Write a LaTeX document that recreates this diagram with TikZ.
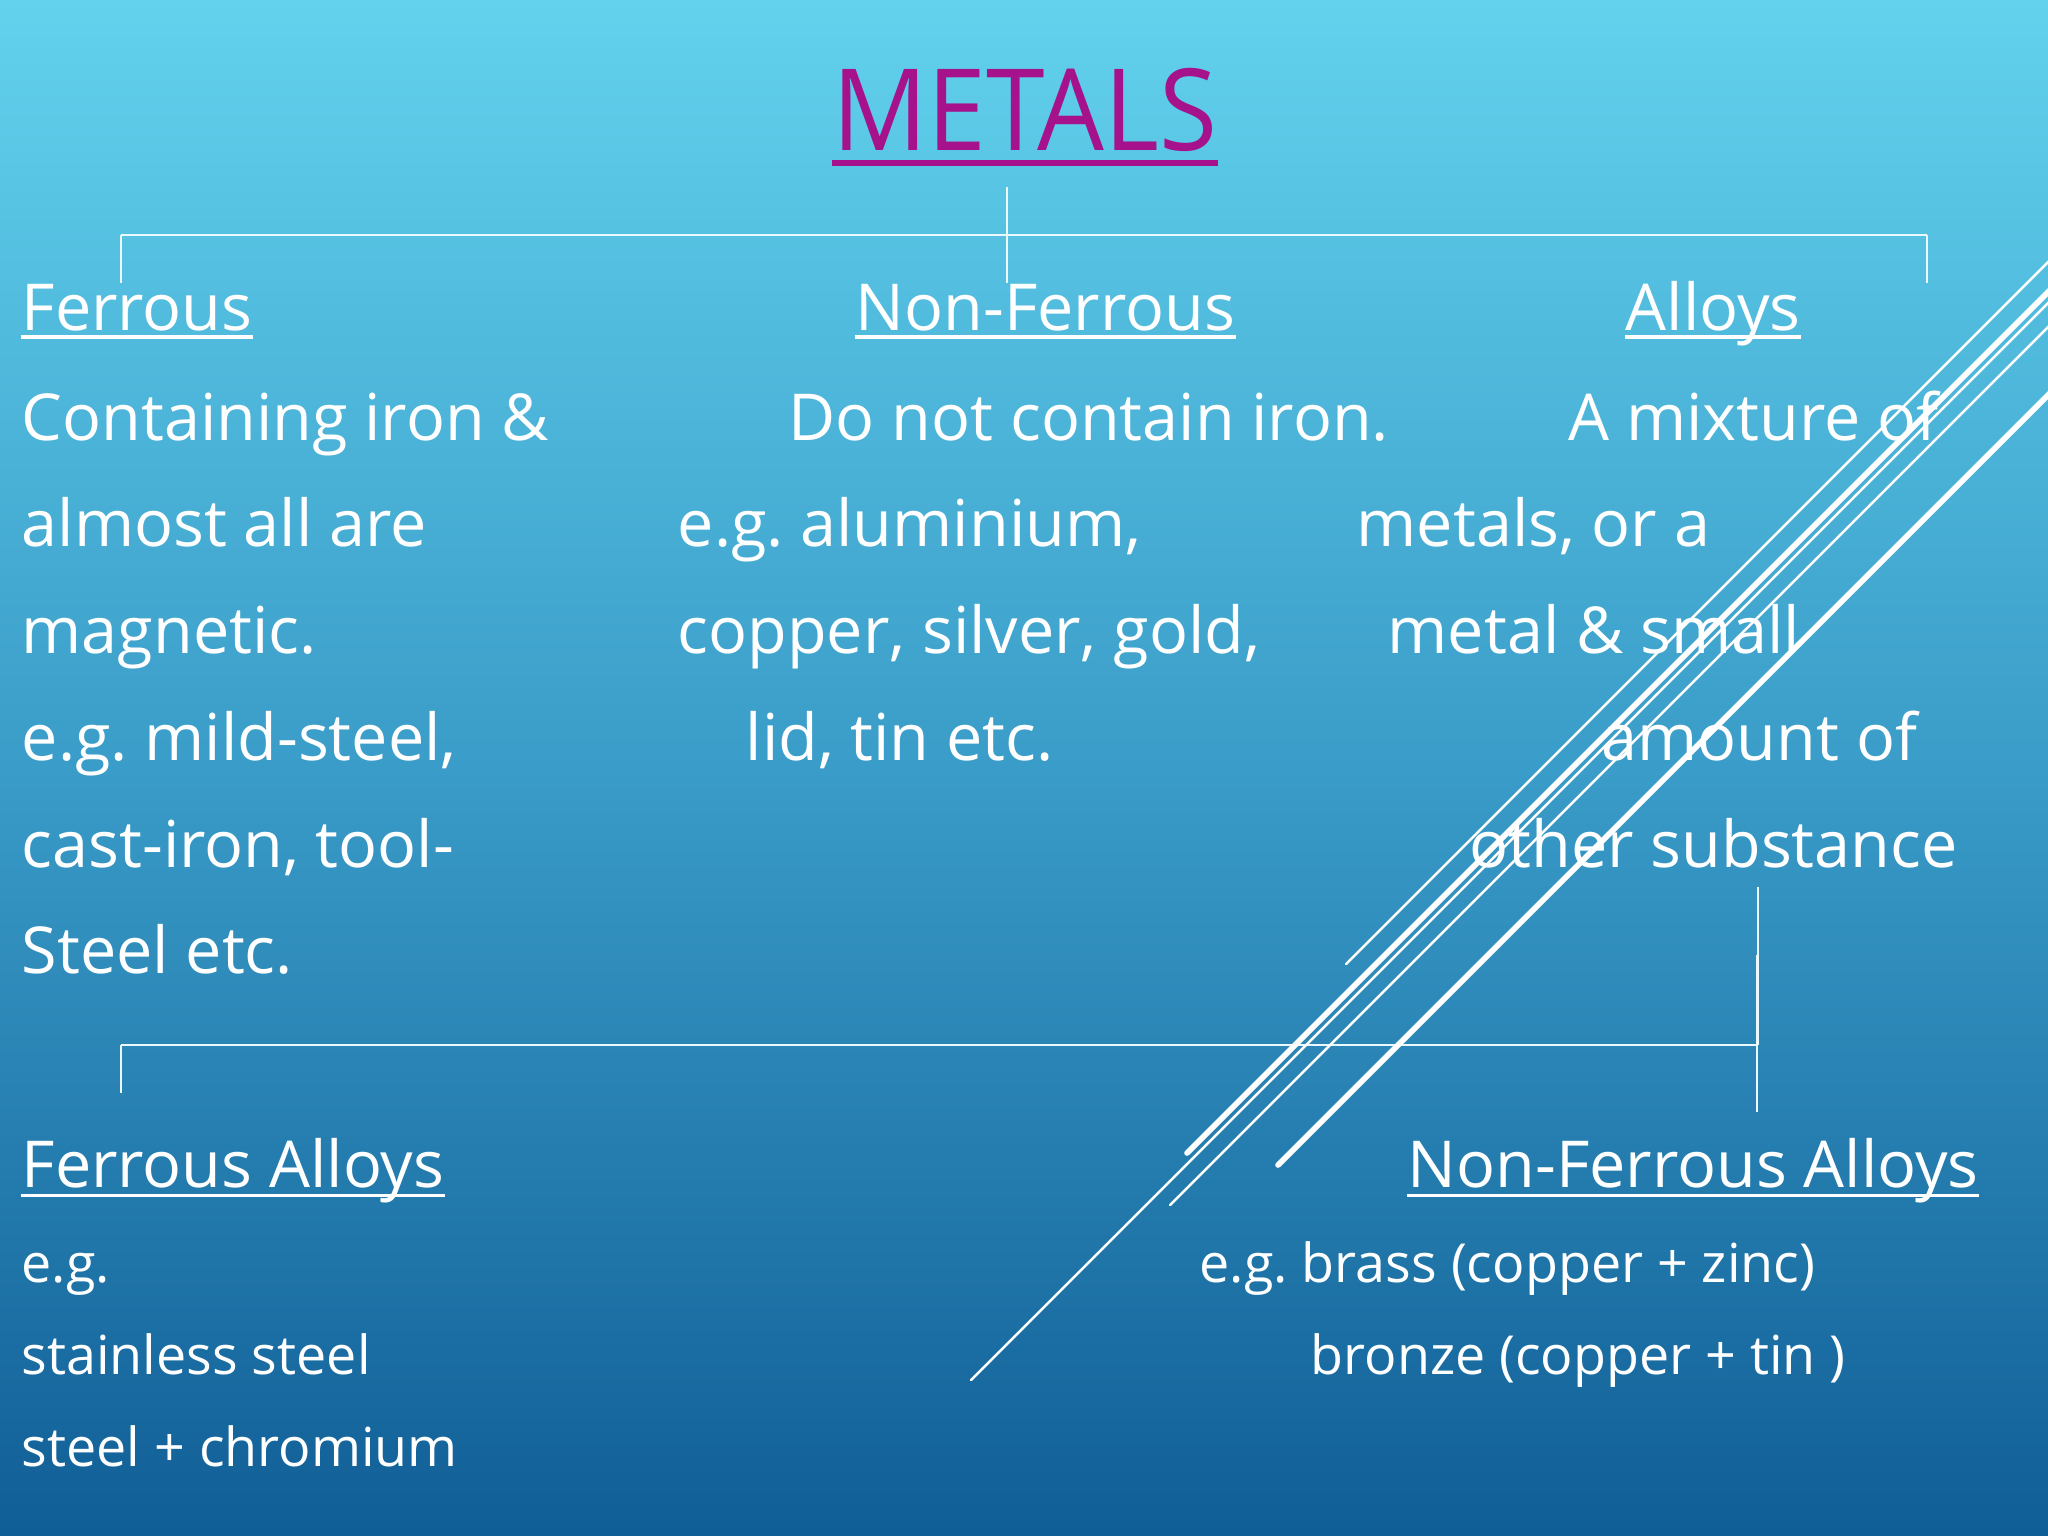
\documentclass[tikz,border=0pt]{standalone}
\usepackage{fontspec}
\setmainfont{Open Sans}
\frenchspacing
\definecolor{titlecol}{RGB}{165,18,140}
\definecolor{bgtop}{RGB}{98,210,237}
\definecolor{bgmid}{RGB}{58,156,200}
\definecolor{bgbot}{RGB}{16,94,150}
\begin{document}
\begin{tikzpicture}[x=0.01cm,y=-0.01cm,
  body/.style={anchor=base west,inner sep=0pt,text=white,font=\fontsize{18.4}{22}\selectfont},
  small/.style={anchor=base west,inner sep=0pt,text=white,font=\fontsize{15.3}{18}\selectfont},
  link/.style={draw=white!92!cyan,line width=0.6pt},
  uline/.style={draw=white,line width=0.9pt},
  slimline/.style={draw=white,line width=0.7pt,line cap=round},
  boldline/.style={draw=white,line width=1.6pt,line cap=round}]

\useasboundingbox (0,0) rectangle (2048,1536);
\shade[top color=bgtop,bottom color=bgbot,middle color=bgmid] (0,0) rectangle (2048,1536);

\node[anchor=base,inner sep=0pt,text=titlecol,font=\fontsize{32.3}{36}\selectfont,xscale=0.93] (metals) at (1025,150) {METALS};
\draw[draw=titlecol,line width=1.7pt] ([yshift=-3.7pt]metals.base west) -- ([yshift=-3.7pt]metals.base east);

\coordinate (m1) at (1007,187);
\coordinate (m2) at (1007,283);
\coordinate (h1) at (121,235);
\coordinate (h2) at (1927,235);
\coordinate (h3) at (121,283);
\coordinate (h4) at (1927,283);
\draw[link] (h1) -- (h2);
\draw[link] (h1) -- (h3);
\draw[link] (h2) -- (h4);
\draw[link] (m1) -- (m2);

\node[body] (ferrous) at (21,330) {Ferrous};
\node[body] (nonferrous) at (855,330) {Non-Ferrous};
\node[body] (alloys) at (1625,330) {Alloys};
\draw[uline] ([yshift=-2pt]ferrous.base west) -- ([yshift=-2pt]ferrous.base east);
\draw[uline] ([yshift=-2pt]nonferrous.base west) -- ([yshift=-2pt]nonferrous.base east);
\draw[uline] ([yshift=-2pt]alloys.base west) -- ([yshift=-2pt]alloys.base east);

\node[body] (fe1) at (21,440) {Containing iron \&};
\node[body] (fe2) at (21,546) {almost all are};
\node[body] (fe3) at (21,653) {magnetic.};
\node[body] (fe4) at (21,760) {e.g. mild-steel,};
\node[body] (fe5) at (21,867) {cast-iron, tool-};
\node[body] (fe6) at (21,973) {Steel etc.};

\node[body] (nf1) at (788,440) {Do not contain iron.};
\node[body] (nf2) at (677,546) {e.g. aluminium,};
\node[body] (nf3) at (677,653) {copper, silver, gold,};
\node[body] (nf4) at (745,760) {lid, tin etc.};

\node[body] (al1) at (1568,440) {A mixture of};
\node[body] (al2) at (1356,546) {metals, or a};
\node[body] (al3) at (1387,653) {metal \& small};
\node[body] (al4) at (1601,760) {amount of};
\node[body] (al5) at (1469,867) {other substance};

\coordinate (b1) at (121,1045);
\coordinate (b2) at (1758,1045);
\coordinate (b3) at (121,1093);
\coordinate (b4) at (1758,887);
\coordinate (b5) at (1757,955);
\coordinate (b6) at (1757,1112);
\draw[link] (b1) -- (b2);
\draw[link] (b1) -- (b3);
\draw[link] (b4) -- (b2);
\draw[link] (b5) -- (b6);

\node[body] (feal) at (21,1187) {Ferrous Alloys};
\node[body] (nfal) at (1407,1187) {Non-Ferrous Alloys};
\draw[uline] ([yshift=-2.4pt]feal.base west) -- ([yshift=-2.4pt]feal.base east);
\draw[uline] ([yshift=-2.4pt]nfal.base west) -- ([yshift=-2.4pt]nfal.base east);

\node[small] (fa1) at (21,1282) {e.g.};
\node[small] (fa2) at (21,1374) {stainless steel};
\node[small] (fa3) at (21,1466) {steel + chromium};
\node[small] (nfa1) at (1199,1282) {e.g. brass (copper + zinc)};
\node[small] (nfa2) at (1310,1374) {bronze (copper + tin )};

\draw[slimline] (1346,964) -- (2060,250);
\draw[boldline] (1187,1153) -- (2060,280);
\draw[slimline] (971,1380) -- (2060,291);
\draw[slimline] (1170,1205) -- (2060,315);
\draw[boldline] (1278,1165) -- (2060,383);

\end{tikzpicture}
\end{document}
